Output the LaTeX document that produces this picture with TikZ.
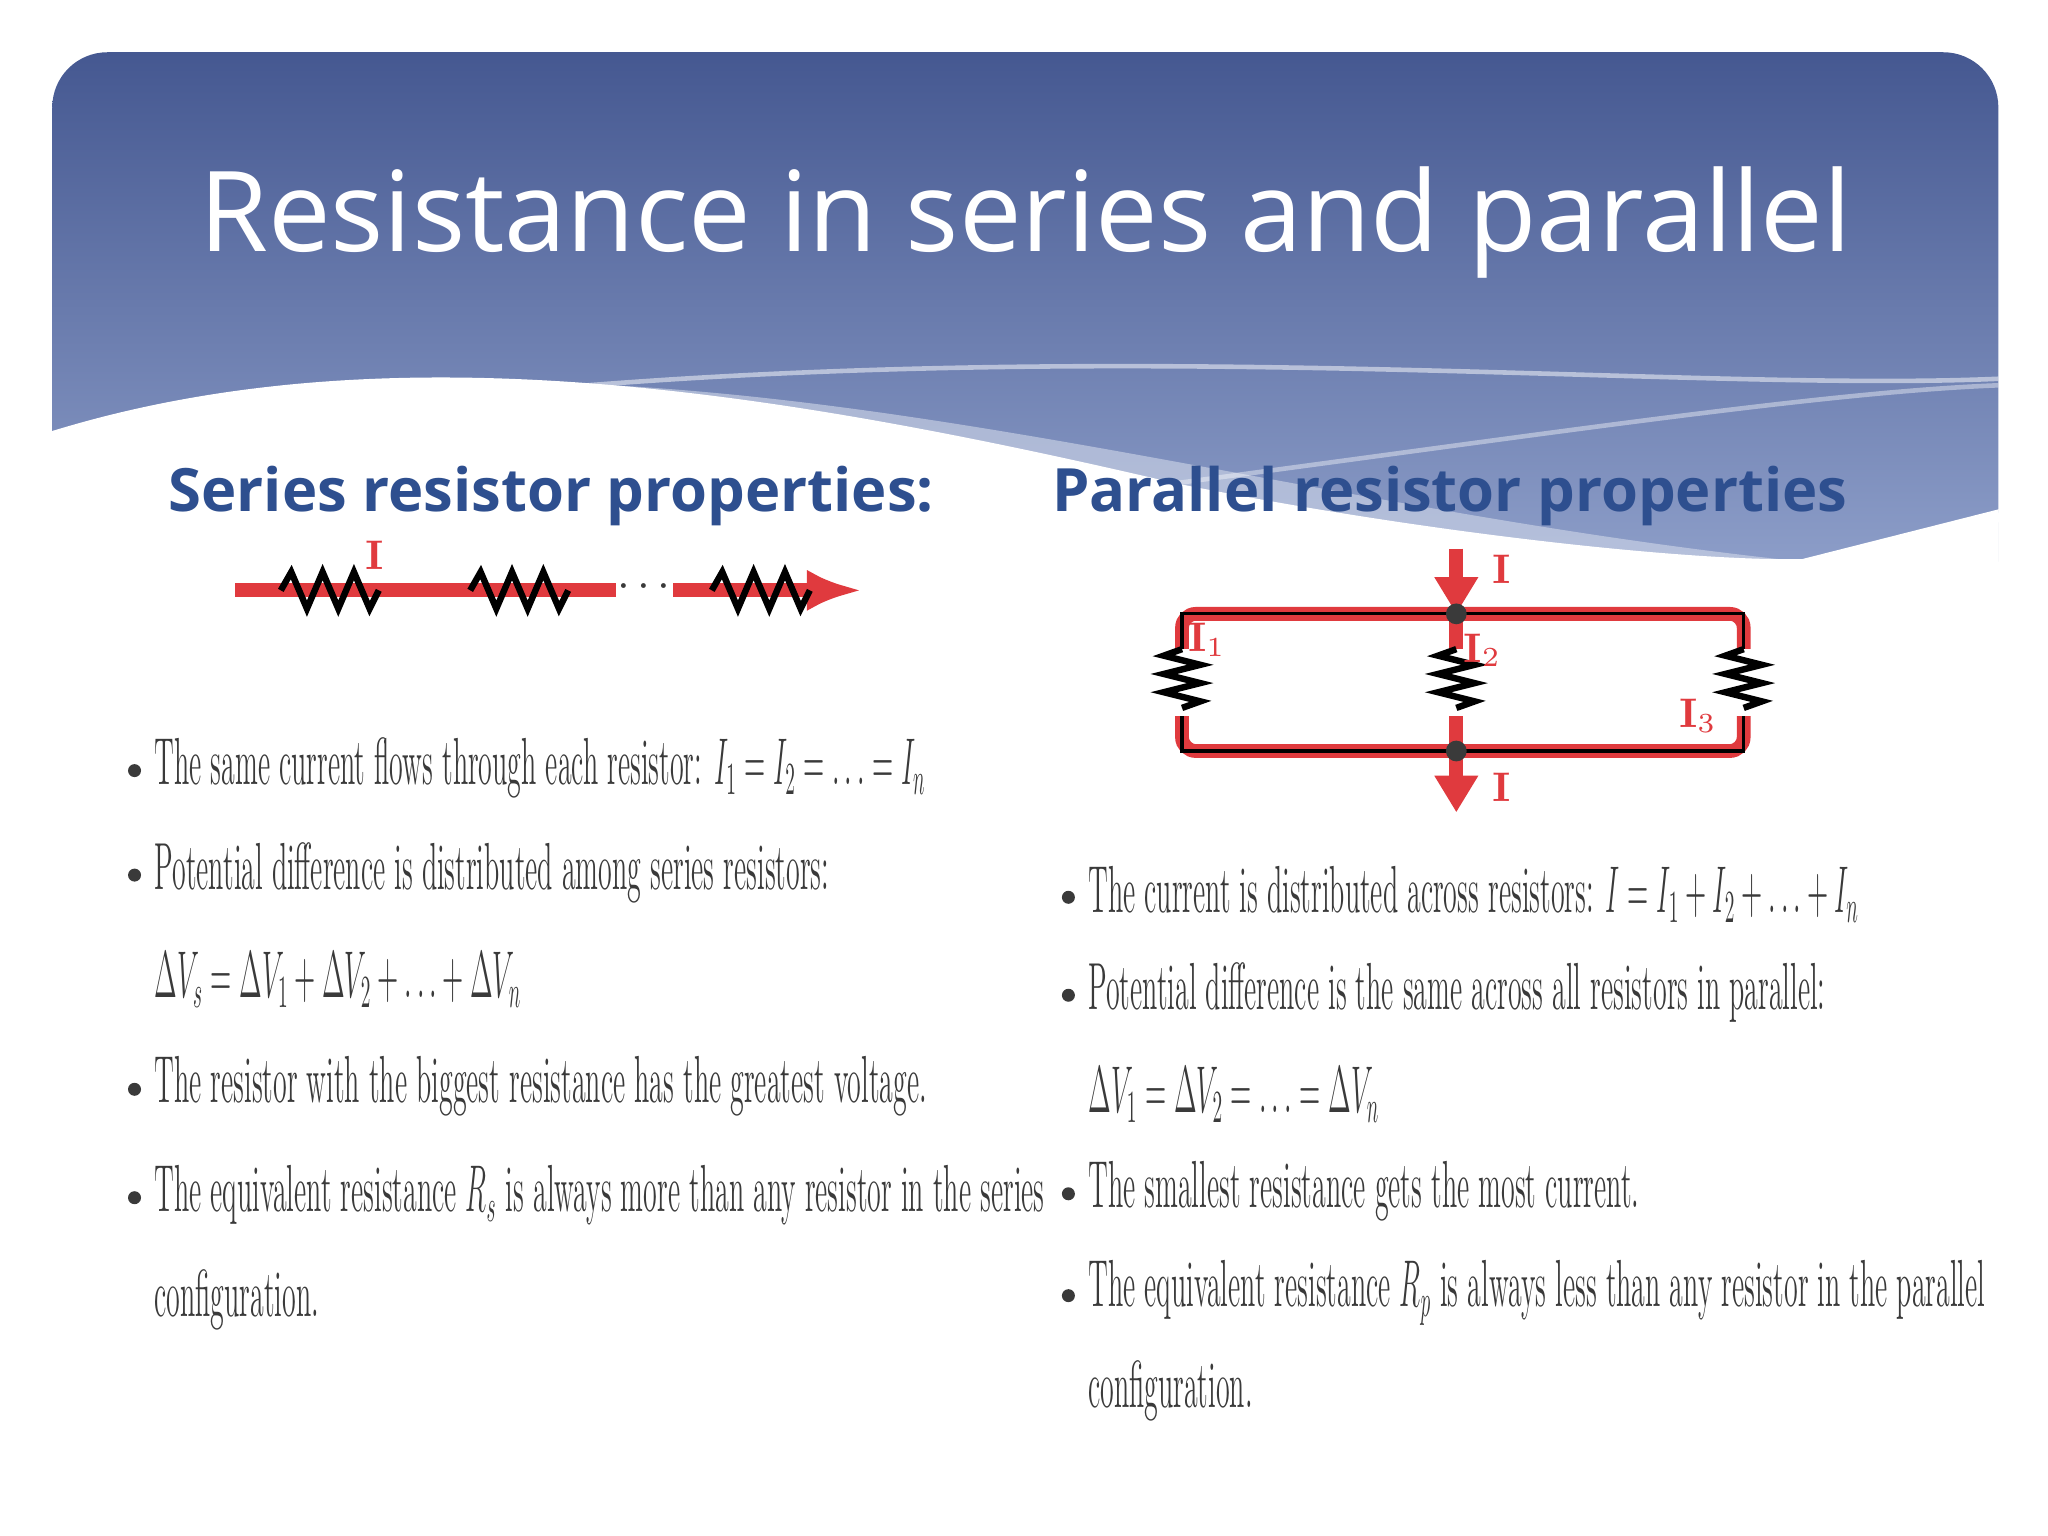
\documentclass[tikz,border=0pt]{standalone}
\usepackage{fontspec}
\setsansfont{Open Sans}
\usetikzlibrary{arrows.meta,decorations.pathmorphing}
\definecolor{hdtop}{HTML}{455891}
\definecolor{hdbot}{HTML}{8C9DC8}
\definecolor{subc}{HTML}{2E4F8F}
\definecolor{txt}{HTML}{3A3A3A}
\definecolor{rd}{HTML}{E03A3E}
\tikzset{
 bul/.style={anchor=west,inner sep=0,text=txt,xscale=0.42,font=\fontsize{14.5}{17}\selectfont},
 dot/.style={circle,fill=txt,inner sep=1.6pt},
 bdot/.style={circle,fill=txt,inner sep=1pt},
 wire/.style={rd,line width=3pt},
 zz/.style={black,line width=1.4pt,line join=miter},
 lab/.style={text=rd,font=\bfseries\fontsize{9}{10}\selectfont,inner sep=0}
}
\begin{document}
\begin{tikzpicture}[x=0.01cm,y=-0.01cm]
\useasboundingbox (0,0) rectangle (1568,1176);
\fill[white] (0,0) rectangle (1568,1176);
% header
\shade[top color=hdtop,bottom color=hdbot,rounded corners=12] (40,40) rectangle (1530,430);
\fill[white!60!hdbot,opacity=0.6] (40,330) .. controls (500,220) and (900,380) .. (1380,430) -- (1530,400) -- (1530,430) -- (40,430) -- cycle;
\fill[white] (40,330) .. controls (300,250) and (600,300) .. (900,370) .. controls (1100,410) and (1300,430) .. (1380,428) -- (1530,430) -- (1530,440) -- (40,440) -- cycle;
\fill[white] (1380,428) -- (1530,390) -- (1530,445) -- (1380,445) -- cycle;
\draw[white,opacity=0.5,line width=1pt] (450,295) .. controls (900,260) and (1300,300) .. (1530,290);
\draw[white,opacity=0.4,line width=1pt] (900,370) .. controls (1200,330) and (1400,300) .. (1530,295);
\node[text=white,font=\sffamily\fontsize{24.3}{29}\selectfont] (title) at (785,170) {Resistance in series and parallel};
\node[text=subc,font=\sffamily\bfseries\fontsize{13}{16}\selectfont] (s1) at (422,380) {Series resistor properties:};
\node[text=subc,font=\sffamily\bfseries\fontsize{13}{16}\selectfont] (s2) at (1110,380) {Parallel resistor properties};
% series circuit
\coordinate (sa) at (180,452); \coordinate (sb) at (660,452);
\draw[wire,-{Latex[length=12pt]}] (sa) -- (sb);
\foreach \x in {215,360,545}{
 \draw[zz] (\x,452) -- ++(8,-14) -- ++(12,28) -- ++(12,-28) -- ++(12,28) -- ++(12,-28) -- ++(12,28) -- ++(7,-14);}
\fill[white] (472,446) rectangle (515,458);
\node[text=txt,font=\bfseries] (dots) at (493,450) {$\cdots$};
\node[lab] (iS) at (287,425) {I};
% parallel circuit
\coordinate (tl) at (905,470); \coordinate (br) at (1335,575);
\draw[wire,rounded corners=3] (tl) rectangle (br);
\draw[black,line width=0.7pt] (tl) rectangle (br);
\draw[wire,line width=3pt] (1115,470) -- (1115,575);
\foreach \x in {905,1115,1335}{
 \fill[white] (\x-8,497) rectangle (\x+8,548);
 \draw[zz] (\x,497) -- ++(-14,5) -- ++(28,7) -- ++(-28,7) -- ++(28,7) -- ++(-28,7) -- ++(28,7) -- ++(-14,5);}
\draw[rd,line width=3pt,-{Triangle[length=8pt,width=9pt]}] (1115,420) -- (1115,470);
\draw[rd,line width=3pt,-{Triangle[length=8pt,width=9pt]}] (1115,575) -- (1115,622);
\node[dot] (n1) at (1115,470) {};
\node[dot] (n2) at (1115,575) {};
\node[lab] (iT) at (1150,436) {I};
\node[lab] (iB) at (1150,603) {I};
\node[lab] (i1) at (924,490) {I$_1$};
\node[lab] (i2) at (1135,498) {I$_2$};
\node[lab] (i3) at (1300,548) {I$_3$};
% left bullets
\foreach \y in {590,670,834,917}{\node[bdot] at (103,\y) {};}
\node[bul] (l1) at (118,588) {The same current flows through each resistor: $I_1=I_2=\ldots=I_n$};
\node[bul] (l2) at (118,668) {Potential difference is distributed among series resistors:};
\node[bul] (l3) at (118,750) {$\Delta V_s=\Delta V_1+\Delta V_2+\ldots+\Delta V_n$};
\node[bul] (l4) at (118,832) {The resistor with the biggest resistance has the greatest voltage.};
\node[bul] (l5) at (118,915) {The equivalent resistance $R_s$ is always more than any resistor in the series};
\node[bul] (l6) at (118,995) {configuration.};
% right bullets
\foreach \y in {687,762,914,992}{\node[bdot] at (818,\y) {};}
\node[bul] (r1) at (833,685) {The current is distributed across resistors: $I=I_1+I_2+\ldots+I_n$};
\node[bul] (r2) at (833,760) {Potential difference is the same across all resistors in parallel:};
\node[bul] (r3) at (833,838) {$\Delta V_1=\Delta V_2=\ldots=\Delta V_n$};
\node[bul] (r4) at (833,912) {The smallest resistance gets the most current.};
\node[bul] (r5) at (833,990) {The equivalent resistance $R_p$ is always less than any resistor in the parallel};
\node[bul] (r6) at (833,1065) {configuration.};
\end{tikzpicture}
\end{document}
